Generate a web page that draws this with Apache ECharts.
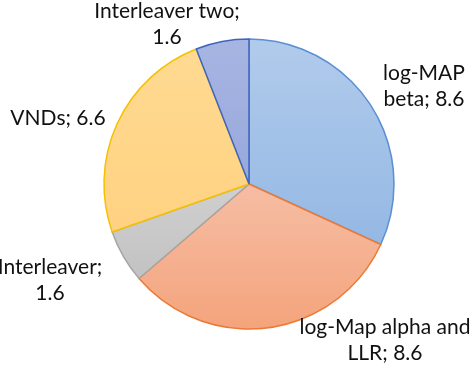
<!DOCTYPE html>
<html>
<head>
<meta charset="utf-8">
<script src="https://cdn.jsdelivr.net/npm/echarts@6/dist/echarts.min.js"></script>
<style>html,body{margin:0;padding:0;background:#fff;}#c{width:474px;height:366px;}</style>
</head>
<body>
<div id="c"></div>
<script>
const categories = ['log-MAP beta', 'log-Map alpha and LLR', 'Interleaver', 'VNDs', 'Interleaver two'];
const values = [8.6, 8.6, 1.6, 6.6, 1.6];
const labelTexts = ['log-MAP\nbeta; 8.6', 'log-Map alpha and\nLLR; 8.6', 'Interleaver;\n1.6', 'VNDs; 6.6', 'Interleaver two;\n1.6'];

const fills = [
  ['#b1cbeb', '#94b8e4'],
  ['#f6bda4', '#f4a47c'],
  ['#d0d0d0', '#c2c2c2'],
  ['#ffda92', '#ffd282'],
  ['#a7b5e2', '#97a8dc']
];
const borders = ['#5b8fd3', '#ec7a35', '#a5a5a5', '#f5c000', '#3f64bd'];
const labelPos = [[424, 86], [385, 340], [50, 280], [58, 118], [167, 24]];

const chart = echarts.init(document.getElementById('c'));
chart.setOption({
  animation: false,
  series: [{
    type: 'pie',
    center: [249, 184],
    radius: 145,
    startAngle: 90,
    clockwise: true,
    avoidLabelOverlap: false,
    label: {
      show: true,
      position: 'outside',
      alignTo: 'none',
      overflow: 'none',
      fontFamily: 'Lato',
      fontSize: 21,
      lineHeight: 26,
      color: '#111',
      align: 'center',
      formatter: p => labelTexts[p.dataIndex]
    },
    labelLine: { show: false },
    labelLayout: p => ({
      x: labelPos[p.dataIndex][0],
      y: labelPos[p.dataIndex][1],
      align: 'center',
      verticalAlign: 'middle',
      width: 300
    }),
    data: categories.map((c, i) => ({
      name: c,
      value: values[i],
      itemStyle: {
        color: new echarts.graphic.LinearGradient(0, 0, 0, 1, [
          { offset: 0, color: fills[i][0] },
          { offset: 1, color: fills[i][1] }
        ]),
        borderColor: borders[i],
        borderWidth: 1.5
      }
    }))
  }]
});
</script>
</body>
</html>
